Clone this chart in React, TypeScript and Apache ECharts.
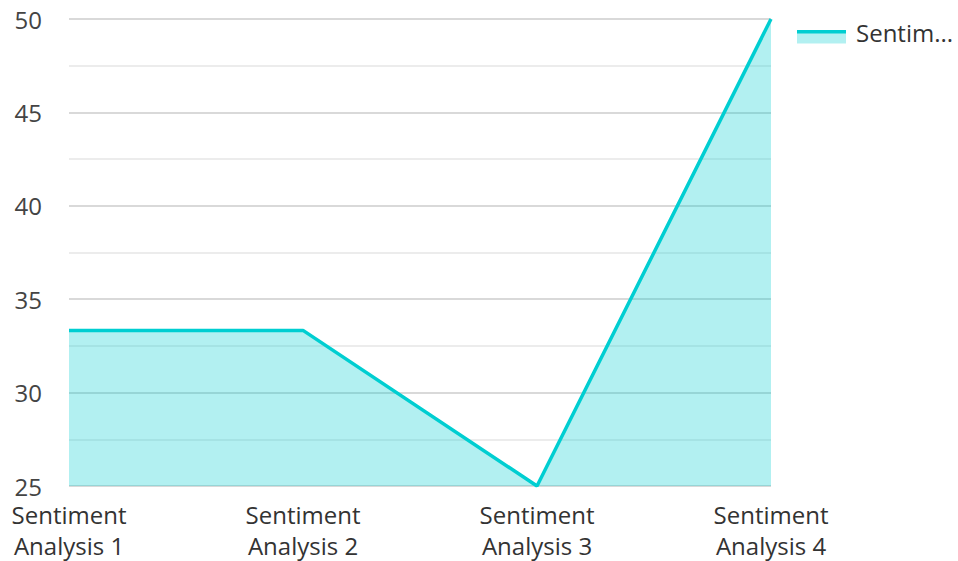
import React, { useEffect, useRef } from "react";
import * as echarts from "echarts";

const categories = ["Sentiment\nAnalysis 1", "Sentiment\nAnalysis 2", "Sentiment\nAnalysis 3", "Sentiment\nAnalysis 4"];
const values = [33.33, 33.33, 25, 50];
const seriesName = "Sentiment Analysis Score";
const lineColor = "#00CED1";
const fontFamily = "'Open Sans', sans-serif";

export default function App() {
  const ref = useRef<HTMLDivElement>(null);
  useEffect(() => {
    if (!ref.current) return;
    const chart = echarts.init(ref.current, undefined, { renderer: "svg" });
    chart.setOption({
      animation: false,
      grid: { left: 69, right: 187, top: 19, bottom: 74, containLabel: false },
      legend: {
        show: true,
        left: 802,
        top: 20,
        padding: 0,
        itemWidth: 49,
        itemHeight: 13,
        itemGap: 10,
        icon: "rect",
        itemStyle: { color: "rgba(0,0,0,0)", borderWidth: 0 },
        textStyle: {
          fontFamily,
          fontSize: 24,
          color: "#333",
          width: 100,
          overflow: "truncate",
          ellipsis: "...",
        },
        data: [{ name: seriesName }],
      },
      graphic: [
        {
          type: "rect",
          left: 797,
          top: 30,
          shape: { width: 49, height: 13.5 },
          style: { fill: "rgba(0,206,209,0.3)" },
          z: 100,
        },
        {
          type: "rect",
          left: 797,
          top: 30,
          shape: { width: 49, height: 3.5 },
          style: { fill: lineColor },
          z: 101,
        },
      ],
      xAxis: {
        type: "category",
        boundaryGap: false,
        data: categories,
        axisLine: { show: false },
        axisTick: { show: false },
        splitLine: { show: false },
        axisLabel: {
          interval: 0,
          fontFamily,
          fontSize: 24,
          color: "#333",
          lineHeight: 31,
          margin: 13,
        },
      },
      yAxis: {
        type: "value",
        min: 25,
        max: 50,
        interval: 5,
        axisLine: { show: false },
        axisTick: { show: false },
        axisLabel: { fontFamily, fontSize: 24, color: "#444", margin: 27 },
        splitLine: { show: true, lineStyle: { color: "#cccccc", width: 1.5 } },
        minorTick: { show: false, splitNumber: 2 },
        minorSplitLine: { show: true, lineStyle: { color: "#e6e6e6", width: 1.5 } },
      },
      series: [
        {
          name: seriesName,
          type: "line",
          data: values,
          symbol: "none",
          lineStyle: { color: lineColor, width: 3.5 },
          itemStyle: { color: lineColor },
          areaStyle: { color: lineColor, opacity: 0.3 },
        },
      ],
    });
    return () => chart.dispose();
  }, []);
  return (
    <div
      ref={ref}
      style={{ position: "absolute", left: 0, top: 0, width: 958, height: 561 }}
    />
  );
}
